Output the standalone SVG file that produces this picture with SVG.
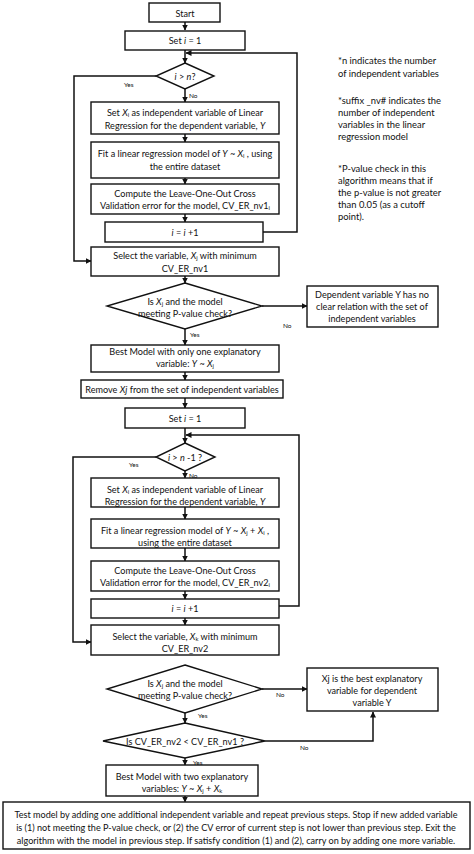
<svg xmlns="http://www.w3.org/2000/svg" width="474" height="854" viewBox="0 0 474 854">
<style>
.b{fill:#fff;stroke:#111;stroke-width:1.4}
.t{font-family:Lato,"Liberation Sans",sans-serif;font-size:9.1px;text-anchor:middle;fill:#111;dominant-baseline:central}
.n{font-family:Lato,"Liberation Sans",sans-serif;font-size:9.4px;fill:#111;dominant-baseline:central}
.l{font-family:Lato,"Liberation Sans",sans-serif;font-size:6.5px;fill:#111;dominant-baseline:central}
.c{fill:none;stroke:#111;stroke-width:1.5}
.d{fill:none;stroke:#111;stroke-width:1.5;stroke-dasharray:2,1.5}
.i{font-style:italic}
</style>
<defs>
<marker id="a" markerUnits="userSpaceOnUse" markerWidth="6" markerHeight="6" refX="5.5" refY="3" orient="auto">
<path d="M0,0 L6,3 L0,6 z" fill="#111"/>
</marker>
</defs>

<g id="connectors">
<path class="c" d="M185,22 V30" marker-end="url(#a)"/>
<path class="c" d="M185,50 V63" marker-end="url(#a)"/>
<path class="c" d="M185,89 V102" marker-end="url(#a)"/>
<path class="c" d="M185,134 V142" marker-end="url(#a)"/>
<path class="c" d="M185,178 V184" marker-end="url(#a)"/>
<path class="c" d="M185,214 V222" marker-end="url(#a)"/>
<path class="c" d="M263,232 H297 V53 H186" marker-end="url(#a)"/>
<path class="c" d="M156,76 H74 V261 H91" marker-end="url(#a)"/>
<path class="c" d="M185,276 V283" marker-end="url(#a)"/>
<path class="c" d="M262,306 H307" marker-end="url(#a)"/>
<path class="c" d="M185,329 V345" marker-end="url(#a)"/>
<path class="c" d="M185,372 V380" marker-end="url(#a)"/>
<path class="c" d="M185,398 V408" marker-end="url(#a)"/>
<path class="c" d="M185,428 V443" marker-end="url(#a)"/>
<path class="c" d="M279,606 H299 V435 H186" marker-end="url(#a)"/>
<path class="c" d="M185,471 V478" marker-end="url(#a)"/>
<path class="c" d="M185,507 V519" marker-end="url(#a)"/>
<path class="c" d="M185,548 V561" marker-end="url(#a)"/>
<path class="c" d="M185,591 V599" marker-end="url(#a)"/>
<path class="c" d="M156,457 H73 V642 H91" marker-end="url(#a)"/>
<path class="c" d="M185,618 V625" marker-end="url(#a)"/>
<path class="c" d="M262,689 H307" marker-end="url(#a)"/>
<path class="c" d="M185,713 V723" marker-end="url(#a)"/>
<path class="c" d="M265,741 H373 V712" marker-end="url(#a)"/>
<path class="c" d="M185,758 V765" marker-end="url(#a)"/>
<path class="d" d="M185,796 V802" marker-end="url(#a)"/>
<text class="l" x="124" y="84">Yes</text>
<text class="l" x="189" y="95">No</text>
<text class="l" x="283" y="325">No</text>
<text class="l" x="190" y="334">Yes</text>
<text class="l" x="129" y="464">Yes</text>
<text class="l" x="189" y="475">No</text>
<text class="l" x="276" y="694">No</text>
<text class="l" x="198" y="715">Yes</text>
<text class="l" x="300" y="747">No</text>
<text class="l" x="193" y="762">Yes</text>
</g>

<g id="start"><rect class="b" x="149" y="3" width="71" height="19"/><text class="t" x="185" y="13">Start</text></g>
<g id="set1"><rect class="b" x="125" y="31" width="120" height="19"/><text class="t" x="185" y="40">Set <tspan class="i">i</tspan> = 1</text></g>
<g id="cond1"><polygon class="b" points="185,63 214,76 185,89 156,76"/><text class="t" x="185" y="76"><tspan class="i">i</tspan> &gt; <tspan class="i">n</tspan>?</text></g>
<g id="setxi1"><rect class="b" x="91" y="102" width="188" height="32"/>
<text class="t" x="185" y="112">Set <tspan class="i">X</tspan><tspan font-size="6" dy="2">i</tspan><tspan dy="-2"> as independent variable of Linear</tspan></text>
<text class="t" x="185" y="125">Regression for the dependent variable, <tspan class="i">Y</tspan></text></g>
<g id="fit1"><rect class="b" x="91" y="142" width="188" height="36"/>
<text class="t" x="185" y="153">Fit a linear regression model of <tspan class="i">Y</tspan> ~ <tspan class="i">X</tspan><tspan font-size="6" dy="2">i</tspan><tspan dy="-2"> , using</tspan></text>
<text class="t" x="185" y="166">the entire dataset</text></g>
<g id="cv1"><rect class="b" x="91" y="184" width="188" height="30"/>
<text class="t" x="185" y="193">Compute the Leave-One-Out Cross</text>
<text class="t" x="185" y="205">Validation error for the model, CV_ER_nv1<tspan font-size="6" dy="2">i</tspan></text></g>
<g id="inc1"><rect class="b" x="105" y="222" width="158" height="20"/><text class="t" x="185" y="232"><tspan class="i">i</tspan> = <tspan class="i">i</tspan> +1</text></g>
<g id="sel1"><rect class="b" x="91" y="247" width="188" height="29"/>
<text class="t" x="185" y="255">Select the variable, <tspan class="i">X</tspan><tspan font-size="6" dy="2">j</tspan><tspan dy="-2"> with minimum</tspan></text>
<text class="t" x="185" y="268">CV_ER_nv1</text></g>
<g id="pv1"><polygon class="b" points="185,283 262,306 185,329 107,306"/>
<text class="t" x="185" y="301">Is <tspan class="i">X</tspan><tspan font-size="6" dy="2">j</tspan><tspan dy="-2">  and the model</tspan></text>
<text class="t" x="185" y="313">meeting P-value check?</text></g>
<g id="norel"><rect class="b" x="307" y="286" width="131" height="41"/>
<text class="t" x="372" y="294">Dependent variable Y has no</text>
<text class="t" x="372" y="306">clear relation with the set of</text>
<text class="t" x="372" y="318">independent variables</text></g>
<g id="best1"><rect class="b" x="91" y="345" width="188" height="27"/>
<text class="t" x="185" y="351">Best Model with only one explanatory</text>
<text class="t" x="185" y="363">variable: <tspan class="i">Y</tspan> ~ <tspan class="i">X</tspan><tspan font-size="6" dy="2">j</tspan></text></g>
<g id="remove"><rect class="b" x="81" y="380" width="202" height="18"/>
<text class="t" x="182" y="389">Remove <tspan class="i">Xj</tspan> from the set of independent variables</text></g>
<g id="set2"><rect class="b" x="125" y="408" width="120" height="20"/><text class="t" x="185" y="418">Set <tspan class="i">i</tspan> = 1</text></g>
<g id="cond2"><polygon class="b" points="185,443 215,457 185,471 156,457"/><text class="t" x="185" y="457"><tspan class="i">i</tspan> &gt; <tspan class="i">n</tspan> -1 ?</text></g>
<g id="setxi2"><rect class="b" x="91" y="478" width="188" height="29"/>
<text class="t" x="185" y="489">Set <tspan class="i">X</tspan><tspan font-size="6" dy="2">i</tspan><tspan dy="-2"> as independent variable of Linear</tspan></text>
<text class="t" x="185" y="501">Regression for the dependent variable, <tspan class="i">Y</tspan></text></g>
<g id="fit2"><rect class="b" x="91" y="519" width="188" height="29"/>
<text class="t" x="185" y="530">Fit a linear regression model of <tspan class="i">Y</tspan> ~ <tspan class="i">X</tspan><tspan font-size="6" dy="2">j</tspan><tspan dy="-2"> + </tspan><tspan class="i">X</tspan><tspan font-size="6" dy="2">i</tspan><tspan dy="-2"> ,</tspan></text>
<text class="t" x="185" y="542">using the entire dataset</text></g>
<g id="cv2"><rect class="b" x="91" y="561" width="188" height="30"/>
<text class="t" x="185" y="570">Compute the Leave-One-Out Cross</text>
<text class="t" x="185" y="582">Validation error for the model, CV_ER_nv2<tspan font-size="6" dy="2">i</tspan></text></g>
<g id="inc2"><rect class="b" x="91" y="599" width="188" height="19"/><text class="t" x="185" y="608"><tspan class="i">i</tspan> = <tspan class="i">i</tspan> +1</text></g>
<g id="sel2"><rect class="b" x="91" y="625" width="188" height="30"/>
<text class="t" x="185" y="636">Select the variable, <tspan class="i">X</tspan><tspan font-size="6" dy="2">k</tspan><tspan dy="-2"> with minimum</tspan></text>
<text class="t" x="185" y="648">CV_ER_nv2</text></g>
<g id="pv2"><polygon class="b" points="185,665 262,689 185,713 107,689"/>
<text class="t" x="185" y="683">Is <tspan class="i">X</tspan><tspan font-size="6" dy="2">j</tspan><tspan dy="-2">  and the model</tspan></text>
<text class="t" x="185" y="695">meeting P-value check?</text></g>
<g id="bestvar"><rect class="b" x="307" y="668" width="131" height="43"/>
<text class="t" x="372" y="678">Xj is the best explanatory</text>
<text class="t" x="372" y="690">variable for dependent</text>
<text class="t" x="372" y="702">variable Y</text></g>
<g id="cvcmp"><polygon class="b" points="185,723 265,741 185,758 103,741"/>
<text class="t" x="185" y="741">Is CV_ER_nv2 &lt; CV_ER_nv1 ?</text></g>
<g id="best2"><rect class="b" x="106" y="765" width="152" height="31"/>
<text class="t" x="182" y="776">Best Model with two explanatory</text>
<text class="t" x="182" y="788">variables: <tspan class="i">Y</tspan> ~ <tspan class="i">X</tspan><tspan font-size="6" dy="2">j</tspan><tspan dy="-2"> + </tspan><tspan class="i">X</tspan><tspan font-size="6" dy="2">k</tspan></text></g>
<g id="final"><rect class="b" x="3" y="802" width="467" height="47"/>
<text class="t" x="236" y="814">Test model by adding one additional independent variable and repeat previous steps. Stop if new added variable</text>
<text class="t" x="236" y="827">is (1) not meeting the P-value check, or (2) the CV error of current step is not lower than previous step. Exit the</text>
<text class="t" x="236" y="840">algorithm with the model in previous step. If satisfy condition (1) and (2), carry on by adding one more variable.</text></g>

<g id="notes">
<text class="n" x="338" y="60">*n indicates the number</text>
<text class="n" x="338" y="73">of independent variables</text>
<text class="n" x="338" y="100">*suffix _nv# indicates the</text>
<text class="n" x="338" y="112">number of independent</text>
<text class="n" x="338" y="124">variables in the linear</text>
<text class="n" x="338" y="136">regression model</text>
<text class="n" x="338" y="168">*P-value check in this</text>
<text class="n" x="338" y="180">algorithm means that if</text>
<text class="n" x="338" y="192">the p-value is not greater</text>
<text class="n" x="338" y="204">than 0.05 (as a cutoff</text>
<text class="n" x="338" y="216">point).</text>
</g>
</svg>
